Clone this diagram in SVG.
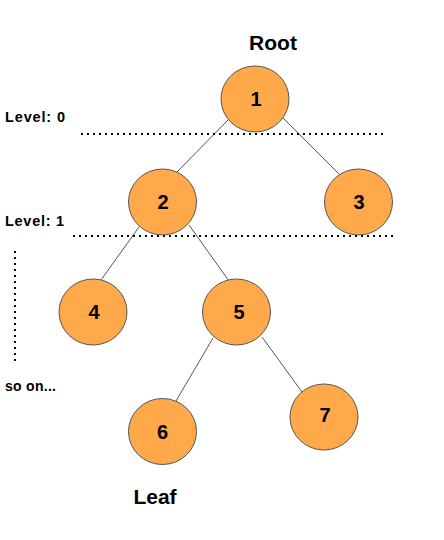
<svg xmlns="http://www.w3.org/2000/svg" width="444" height="540" viewBox="0 0 444 540">
<style>
.node ellipse{fill:#FFA94A;stroke:#555;stroke-width:1}
.node text{font-family:"Liberation Sans",Arial,sans-serif;font-weight:bold;font-size:20px;text-anchor:middle;fill:#000}
.edge{stroke:#555;stroke-width:1;fill:none}
.dots{stroke:#000;stroke-width:2;stroke-dasharray:2 4;fill:none}
.lbl{font-family:"Liberation Sans",Arial,sans-serif;font-weight:bold;fill:#000}
</style>
<rect width="444" height="540" fill="#fff"/>
<g id="connectors">
<line class="edge" x1="228" y1="120" x2="177" y2="172"/>
<line class="edge" x1="283" y1="118" x2="339" y2="174"/>
<line class="edge" x1="139" y1="227" x2="101" y2="280"/>
<line class="edge" x1="189" y1="225" x2="229" y2="281"/>
<line class="edge" x1="213" y1="338" x2="176" y2="401"/>
<line class="edge" x1="262" y1="337" x2="302" y2="392"/>
</g>
<g id="guides">
<line class="dots" x1="81" y1="134" x2="383" y2="134"/>
<line class="dots" x1="73" y1="236" x2="393" y2="236"/>
<line class="dots" x1="15" y1="251" x2="15" y2="361"/>
</g>
<g id="labels">
<text class="lbl" x="273" y="50" font-size="21" text-anchor="middle">Root</text>
<text class="lbl" x="5" y="122" font-size="14.5" textLength="60" lengthAdjust="spacing">Level: 0</text>
<text class="lbl" x="5" y="226" font-size="14.5" textLength="59" lengthAdjust="spacing">Level: 1</text>
<text class="lbl" x="5" y="391" font-size="14" textLength="51" lengthAdjust="spacing">so on...</text>
<text class="lbl" x="155" y="504" font-size="21" text-anchor="middle">Leaf</text>
</g>
<g id="node1" class="node"><ellipse cx="255" cy="99" rx="34" ry="33"/><text x="256" y="106">1</text></g>
<g id="node2" class="node"><ellipse cx="162.5" cy="202" rx="34" ry="33"/><text x="163" y="209">2</text></g>
<g id="node3" class="node"><ellipse cx="358.5" cy="202" rx="34" ry="33"/><text x="359" y="209">3</text></g>
<g id="node4" class="node"><ellipse cx="93" cy="312" rx="34" ry="33"/><text x="94" y="319">4</text></g>
<g id="node5" class="node"><ellipse cx="236.5" cy="312" rx="34" ry="33"/><text x="239" y="319">5</text></g>
<g id="node6" class="node"><ellipse cx="162.5" cy="431.5" rx="34" ry="33"/><text x="162.5" y="438.5">6</text></g>
<g id="node7" class="node"><ellipse cx="324" cy="417" rx="34" ry="33"/><text x="325" y="422">7</text></g>
</svg>
